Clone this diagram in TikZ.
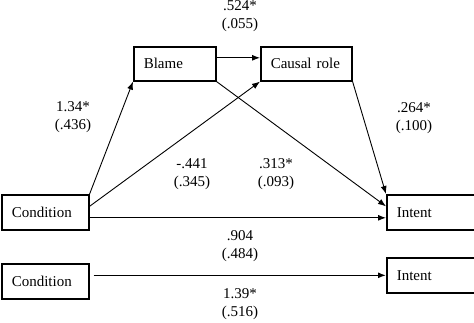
\documentclass[tikz,border=0pt]{standalone}
\usepackage{fontspec}
\setmainfont{Liberation Serif}
\usetikzlibrary{arrows.meta}
\begin{document}
\begin{tikzpicture}[x=1pt,y=-1pt,
  box/.style={draw, line width=1.6pt, anchor=north west, inner xsep=10pt, inner ysep=0pt,
    align=left, font=\fontsize{15}{18}\selectfont},
  arr/.style={-{Latex[length=8pt,width=6pt]}, line width=0.9pt},
  lab/.style={align=center, font=\fontsize{15}{18}\selectfont, inner sep=0pt}]
\useasboundingbox[fill=white] (0,0) rectangle (474,322);
\node[box, text width=62pt, minimum height=34pt] (blame) at (133,46) {Blame};
\node[box, text width=71pt, minimum height=34pt] (causal) at (260,46) {Causal role};
\node[box, text width=67pt, minimum height=35pt] (c1) at (1,194) {Condition};
\node[box, text width=70pt, minimum height=35pt] (i1) at (386,194) {Intent};
\node[box, text width=67pt, minimum height=35pt] (c2) at (1,263) {Condition};
\node[box, text width=70pt, minimum height=35pt] (i2) at (386,257) {Intent};
\draw[arr] ([yshift=6pt]blame.east) -- ([yshift=6pt]blame.east -| causal.west);
\draw[arr] (c1.north east) -- (blame.south west);
\draw[arr] ([yshift=6pt]c1.east) -- (causal.south west);
\draw[arr] (blame.south east) -- ([yshift=6pt]i1.west);
\draw[arr] (causal.south east) -- (i1.north west);
\draw[arr] ([yshift=-5.5pt]c1.east) -- ([yshift=-5.5pt]i1.west);
\draw[arr, line width=1.3pt] ([xshift=4pt]i2.west -| c2.east) -- (i2.west);
\node[lab] (l1) at (240,16) {.524*\\(.055)};
\node[lab] (l2) at (73,117) {1.34*\\(.436)};
\node[lab] (l3) at (414,118) {.264*\\(.100)};
\node[lab] (l4) at (192,174) {-.441\\(.345)};
\node[lab] (l5) at (276,174) {.313*\\(.093)};
\node[lab] (l6) at (240,246) {.904\\(.484)};
\node[lab] (l7) at (240,304) {1.39*\\(.516)};
\end{tikzpicture}
\end{document}
